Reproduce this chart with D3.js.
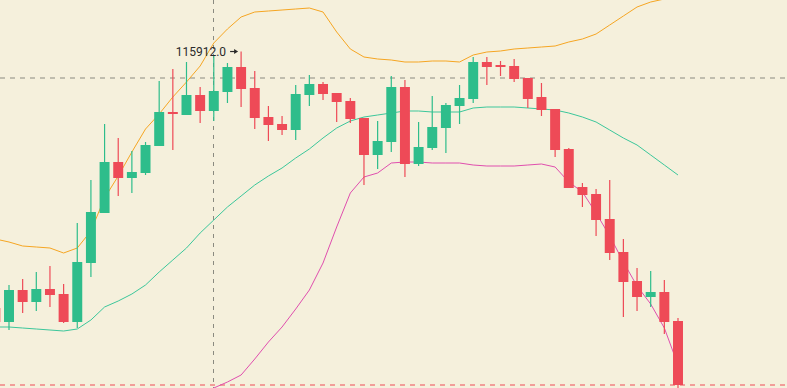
<!DOCTYPE html>
<html>
<head>
<meta charset="utf-8">
<script src="https://cdn.jsdelivr.net/npm/d3@7"></script>
<style>
  html, body { margin: 0; padding: 0; background: #f5f0dc; overflow: hidden; }
  svg { display: block; }
</style>
</head>
<body>
<svg width="787" height="388"></svg>
<script>
// candle data (open, high, low, close)
var opens  = [109500,109150,109950,109650,109975,109850,109150,110625,111875,113150,112750,112875,113550,114400,114325,114825,114425,114900,115525,115000,114275,114100,113950,114825,115100,114875,114675,114250,113325,113650,115025,113100,113500,114000,114550,114725,115650,115575,115550,115250,114775,114475,113475,112525,112350,111725,110900,110175,109775,109900,109175];
var highs  = [109625,110075,110225,110400,110550,110100,111625,112700,114100,113750,113425,113650,115175,115475,115650,115025,115825,115625,115912,115425,114550,114300,115075,115325,115150,114875,114750,114250,114175,115300,115200,114150,114800,114625,115075,115775,115775,115675,115725,115250,115125,114475,113500,112625,112475,112700,111225,110500,110425,110200,109250];
var lows   = [109050,108950,109375,109425,109525,109125,109000,110275,111875,112300,112375,112825,113550,113450,114325,114125,114175,114625,114525,113975,113675,113825,113700,114550,114700,114150,114125,112575,112975,113400,112775,113050,113450,113375,114100,114625,115075,115300,115150,114500,114300,113275,112500,112025,111300,110700,109275,109425,109525,108850,107400];
var closes = [109150,109950,109650,109975,109825,109150,110650,111900,113150,112750,112900,113575,114400,114350,114825,114425,114925,115525,114975,114250,114075,113950,114850,115100,114850,114650,114225,113325,113675,115025,113100,113525,114025,114575,114750,115650,115525,115525,115225,114725,114450,113450,112500,112325,111700,110875,110150,109775,109900,109150,107575];

// bollinger bands
var bbUpper = [111225,111150,111050,111025,111000,110875,111000,111425,112250,112800,113400,113975,114350,114775,115150,115550,116125,116475,116775,116900,116925,116950,116975,117000,116900,116400,115975,115775,115725,115700,115650,115650,115675,115675,115650,115825,115900,115925,115975,116000,116025,116050,116150,116225,116350,116575,116800,117025,117150,117225,117300];
var bbMiddle = [109025,109025,109000,108975,108950,108925,108975,109200,109525,109675,109850,110075,110400,110700,111000,111375,111700,112025,112300,112575,112800,113000,113250,113475,113750,114000,114175,114275,114325,114375,114425,114425,114400,114400,114400,114500,114525,114525,114525,114500,114475,114450,114375,114275,114150,113950,113750,113575,113325,113075,112825];
var bbLower = [null,null,null,null,null,null,null,null,null,null,null,null,null,null,null,107275,107500,107650,107825,108225,108650,109025,109475,109950,110625,111525,112375,112775,112875,113125,113150,113150,113125,113125,113125,113075,113050,113050,113050,113075,113100,113025,112650,112400,111875,111300,110650,110050,109600,109000,108075];

var highIndex = 18, highLabel = "115912.0";
var crossIndex = 16, crossPrice = 115250;

var svg = d3.select("svg"),
    width = +svg.attr("width"),
    height = +svg.attr("height");

var up = "#2ebd8b", down = "#ee4a57";

svg.append("rect").attr("width", width).attr("height", height).attr("fill", "#f5f0dc");

var idx = d3.range(opens.length);
var step = 13.653;
var x = d3.scaleBand()
    .domain(idx)
    .range([-11.48, -11.48 + step * idx.length])
    .paddingInner(0.27)
    .paddingOuter(0.135);
var cx = function (i) { return x(i) + x.bandwidth() / 2; };

var y = d3.scaleLinear()
    .domain([107500, 117200])
    .range([388, 0]);

// crosshair
svg.append("line")
    .attr("x1", 0).attr("x2", width)
    .attr("y1", y(crossPrice)).attr("y2", y(crossPrice))
    .attr("stroke", "#8a8a80").attr("stroke-width", 1)
    .attr("stroke-dasharray", "5,5");
svg.append("line")
    .attr("x1", Math.round(cx(crossIndex)) - 0.5).attr("x2", Math.round(cx(crossIndex)) - 0.5)
    .attr("y1", 0).attr("y2", height)
    .attr("stroke", "#8a8a80").attr("stroke-width", 1)
    .attr("stroke-dasharray", "4,5");

// last price line
var last = closes[closes.length - 1];
svg.append("line")
    .attr("x1", 0).attr("x2", width)
    .attr("y1", y(last)).attr("y2", y(last))
    .attr("stroke", down).attr("stroke-width", 1)
    .attr("stroke-dasharray", "5,5");

// bands
function bandLine(arr, color) {
    var line = d3.line()
        .defined(function (d) { return d != null; })
        .x(function (d, i) { return cx(i); })
        .y(function (d) { return y(d); });
    svg.append("path")
        .datum(arr)
        .attr("fill", "none")
        .attr("stroke", color)
        .attr("stroke-width", 1)
        .attr("stroke-linejoin", "round")
        .attr("d", line);
}
bandLine(bbUpper, "#f5a623");
bandLine(bbMiddle, "#3cc79b");
bandLine(bbLower, "#e04fae");

// candles
var candle = svg.append("g").selectAll("g")
    .data(idx)
    .enter().append("g");

candle.append("line")
    .attr("x1", function (i) { return cx(i); })
    .attr("x2", function (i) { return cx(i); })
    .attr("y1", function (i) { return y(highs[i]); })
    .attr("y2", function (i) { return y(lows[i]); })
    .attr("stroke", function (i) { return closes[i] >= opens[i] ? up : down; })
    .attr("stroke-width", 1.2);

candle.append("rect")
    .attr("x", function (i) { return x(i); })
    .attr("width", x.bandwidth())
    .attr("y", function (i) { return y(Math.max(opens[i], closes[i])); })
    .attr("height", function (i) { return Math.max(1.5, Math.abs(y(opens[i]) - y(closes[i]))); })
    .attr("fill", function (i) { return closes[i] >= opens[i] ? up : down; });

// highest price marker
var hx = cx(highIndex), hy = y(highs[highIndex]);
svg.append("text")
    .attr("x", hx - 15)
    .attr("y", hy)
    .attr("dy", "0.35em")
    .attr("text-anchor", "end")
    .attr("font-family", "Roboto, 'Open Sans', sans-serif")
    .attr("font-size", 12)
    .attr("fill", "#2a2a2a")
    .text(highLabel);

svg.append("line")
    .attr("x1", hx - 11).attr("x2", hx - 5)
    .attr("y1", hy).attr("y2", hy)
    .attr("stroke", "#2a2a2a").attr("stroke-width", 1.2);
svg.append("path")
    .attr("d", "M" + (hx - 3) + "," + hy + "L" + (hx - 7) + "," + (hy - 2.5) + "L" + (hx - 7) + "," + (hy + 2.5) + "Z")
    .attr("fill", "#2a2a2a");
</script>
</body>
</html>
